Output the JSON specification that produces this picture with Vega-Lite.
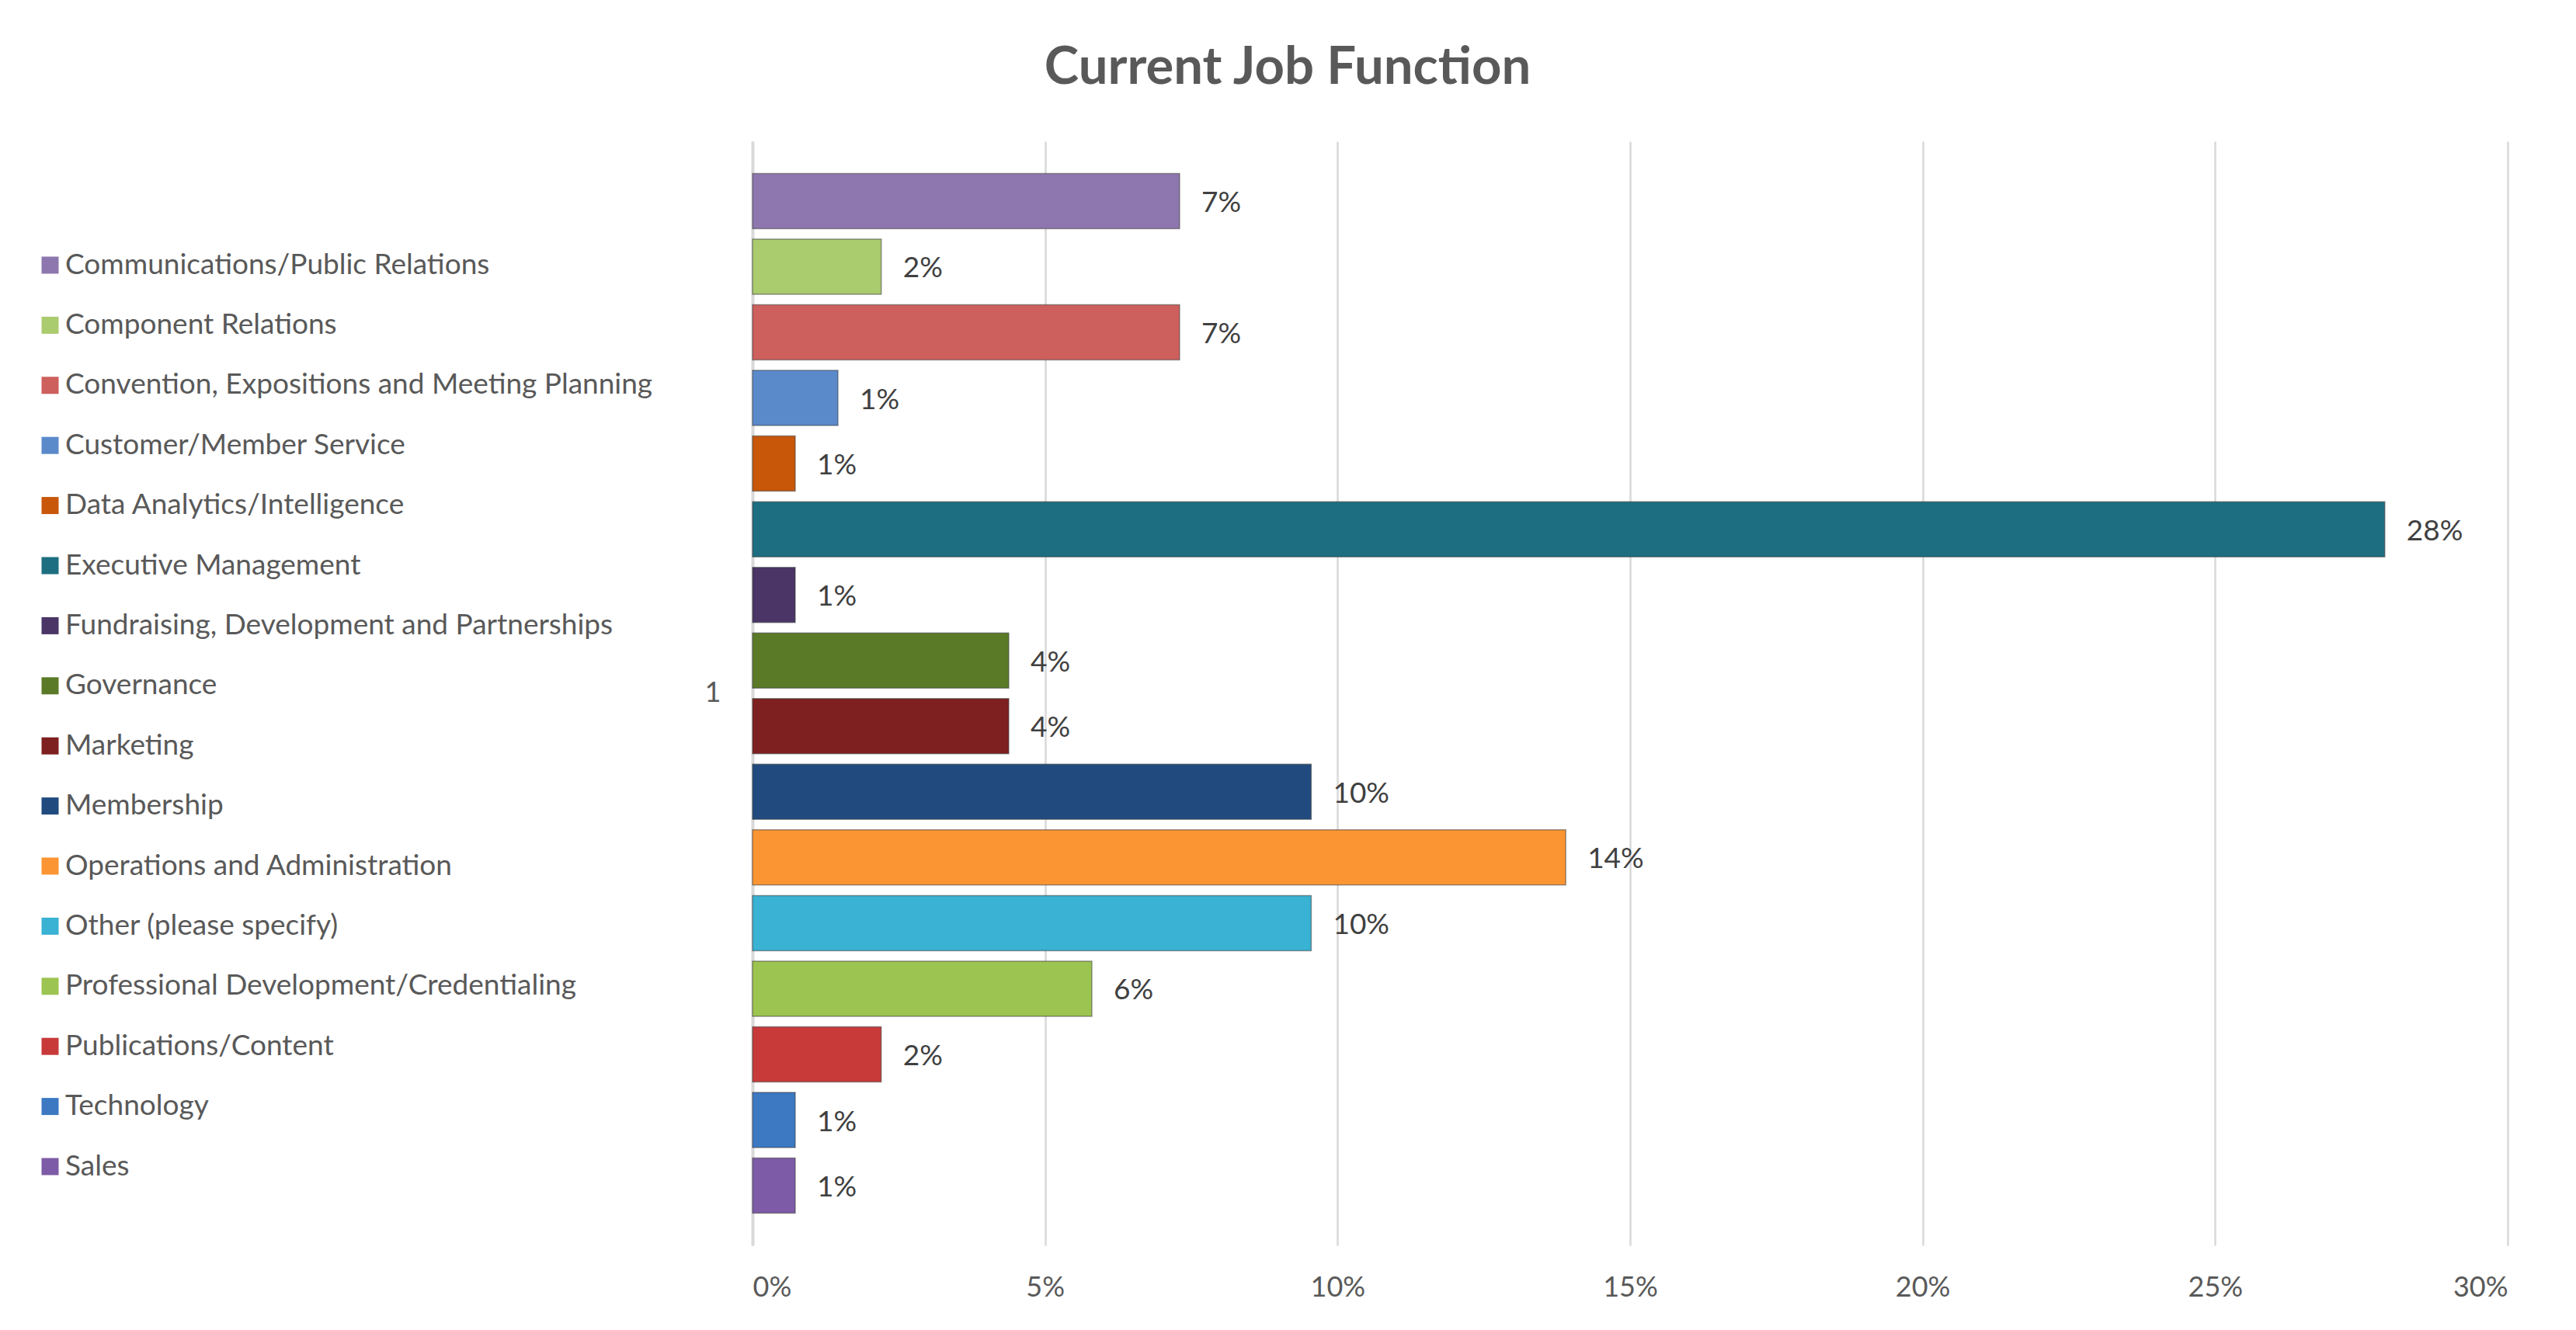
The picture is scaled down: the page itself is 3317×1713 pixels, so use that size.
{
  "$schema": "https://vega.github.io/schema/vega-lite/v6.json",
  "autosize": {"type": "none"},
  "padding": {"left": 969, "top": 182, "right": 88, "bottom": 109},
  "width": 2260,
  "height": 1422,
  "background": "white",
  "title": {
    "text": "Current Job Function",
    "anchor": "middle",
    "dx": -441,
    "offset": 60,
    "font": "Lato",
    "fontSize": 67,
    "fontWeight": "bold",
    "color": "#595959"
  },
  "data": {
    "values": [
      {"cat": "1", "job": "Communications/Public Relations", "share": 0.073},
      {"cat": "1", "job": "Component Relations", "share": 0.022},
      {"cat": "1", "job": "Convention, Expositions and Meeting Planning", "share": 0.073},
      {"cat": "1", "job": "Customer/Member Service", "share": 0.0146},
      {"cat": "1", "job": "Data Analytics/Intelligence", "share": 0.0073},
      {"cat": "1", "job": "Executive Management", "share": 0.279},
      {"cat": "1", "job": "Fundraising, Development and Partnerships", "share": 0.0073},
      {"cat": "1", "job": "Governance", "share": 0.0438},
      {"cat": "1", "job": "Marketing", "share": 0.0438},
      {"cat": "1", "job": "Membership", "share": 0.0955},
      {"cat": "1", "job": "Operations and Administration", "share": 0.139},
      {"cat": "1", "job": "Other (please specify)", "share": 0.0955},
      {"cat": "1", "job": "Professional Development/Credentialing", "share": 0.058},
      {"cat": "1", "job": "Publications/Content", "share": 0.022},
      {"cat": "1", "job": "Technology", "share": 0.0073},
      {"cat": "1", "job": "Sales", "share": 0.0073}
    ]
  },
  "encoding": {
    "y": {
      "field": "cat",
      "type": "nominal",
      "scale": {"paddingInner": 0, "paddingOuter": 0},
      "axis": {
        "title": null,
        "ticks": false,
        "labelAngle": 0,
        "labelPadding": 41,
        "labelFont": "Lato",
        "labelFontSize": 36,
        "labelColor": "#595959",
        "domain": true,
        "domainColor": "#D9D9D9",
        "domainWidth": 4
      }
    },
    "yOffset": {
      "field": "job",
      "type": "nominal",
      "sort": null,
      "scale": {"paddingInner": 0.16, "paddingOuter": 0.49}
    },
    "x": {
      "field": "share",
      "type": "quantitative",
      "scale": {"domain": [0, 0.3], "nice": false},
      "axis": {
        "title": null,
        "values": [0, 0.05, 0.1, 0.15, 0.2, 0.25, 0.3],
        "format": ".0%",
        "domain": false,
        "ticks": false,
        "grid": true,
        "gridColor": "#D9D9D9",
        "gridWidth": 2.5,
        "labelPadding": 37,
        "labelFont": "Lato",
        "labelFontSize": 36,
        "labelColor": "#595959"
      }
    }
  },
  "layer": [
    {
      "mark": {"type": "bar", "stroke": "#3a3a3a", "strokeWidth": 1.5, "strokeOpacity": 0.5},
      "encoding": {
        "color": {
          "field": "job",
          "type": "nominal",
          "sort": null,
          "scale": {
            "domain": [
              "Communications/Public Relations",
              "Component Relations",
              "Convention, Expositions and Meeting Planning",
              "Customer/Member Service",
              "Data Analytics/Intelligence",
              "Executive Management",
              "Fundraising, Development and Partnerships",
              "Governance",
              "Marketing",
              "Membership",
              "Operations and Administration",
              "Other (please specify)",
              "Professional Development/Credentialing",
              "Publications/Content",
              "Technology",
              "Sales"
            ],
            "range": [
              "#8E76AE",
              "#AACB6E",
              "#CD5F5C",
              "#5B8ACB",
              "#C8570A",
              "#1D6E80",
              "#4A3566",
              "#5B7A27",
              "#7E2020",
              "#214B7F",
              "#FB9533",
              "#39B2D3",
              "#9CC450",
              "#C83A3A",
              "#3C79C2",
              "#7D5BA6"
            ]
          },
          "legend": {
            "title": null,
            "orient": "none",
            "legendX": -923,
            "legendY": 141,
            "padding": 0,
            "symbolType": "square",
            "symbolSize": 484,
            "symbolStrokeWidth": 0,
            "labelFont": "Lato",
            "labelFontSize": 37,
            "labelColor": "#595959",
            "labelOffset": 1,
            "labelLimit": 900,
            "rowPadding": 39.4
          }
        }
      }
    },
    {
      "mark": {
        "type": "text",
        "align": "left",
        "baseline": "middle",
        "dx": 28,
        "dy": 3,
        "font": "Lato",
        "fontSize": 37,
        "color": "#404040"
      },
      "encoding": {
        "text": {"field": "share", "type": "quantitative", "format": ".0%"}
      }
    }
  ],
  "config": {
    "view": {"stroke": null}
  }
}
